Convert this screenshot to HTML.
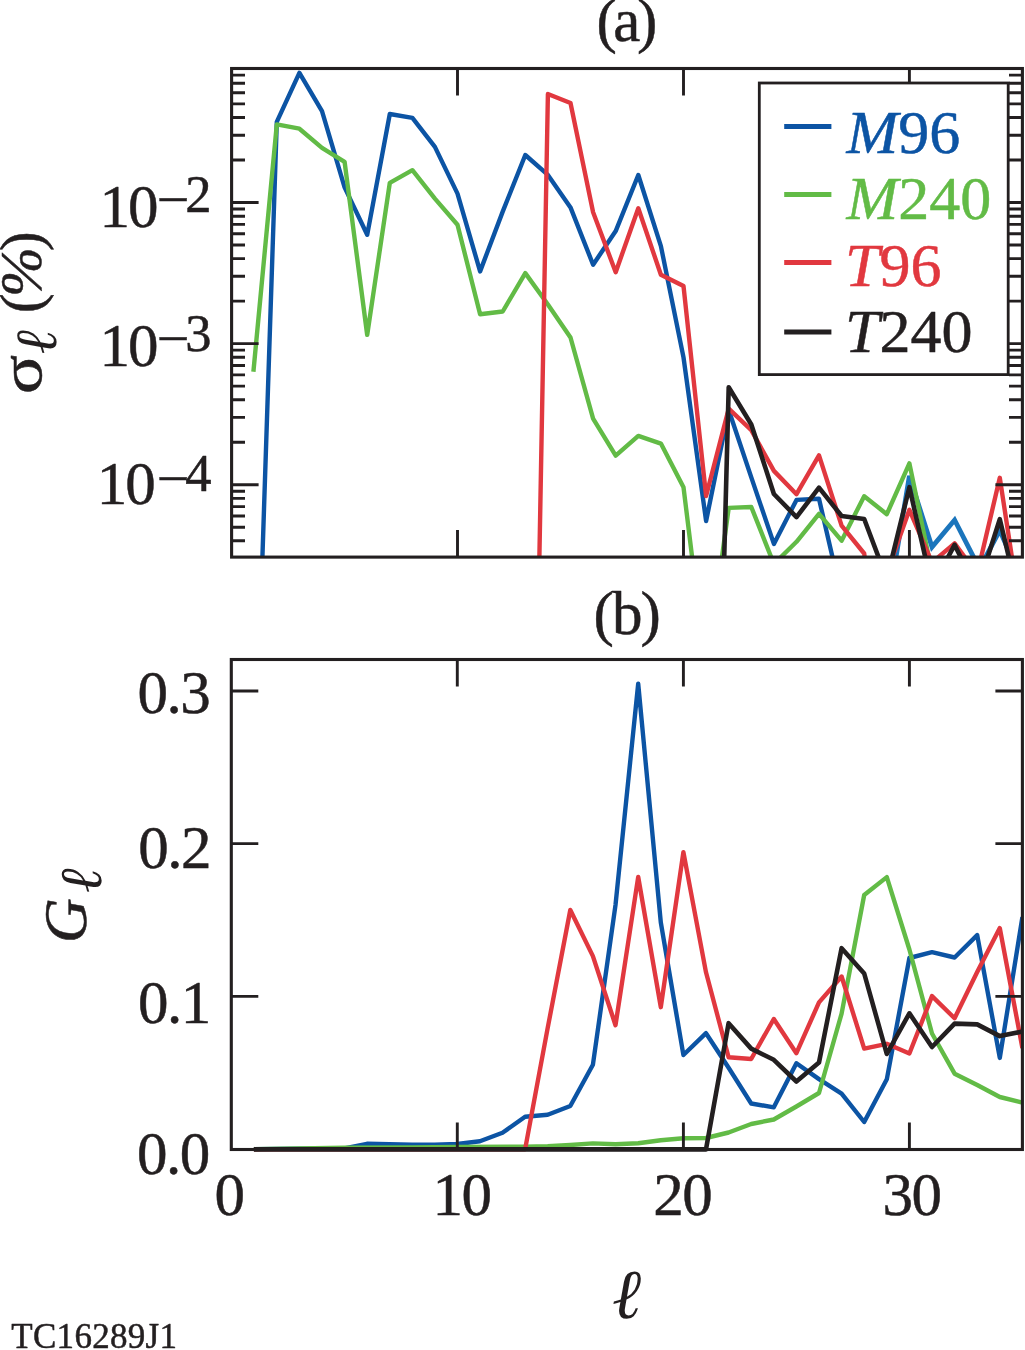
<!DOCTYPE html>
<html lang="en">
<head>
<meta charset="utf-8">
<title>TC16289J1</title>
<style>
html,body{margin:0;padding:0;background:#fff;}
body{width:1025px;height:1350px;overflow:hidden;}
svg{display:block;}
svg text{font-family:"Liberation Serif","Times New Roman",Times,serif;fill:#231f20;stroke:#231f20;stroke-width:0.5px;stroke-linejoin:round;}
</style>
</head>
<body>
<svg width="1025" height="1350" viewBox="0 0 1025 1350">
<defs>
<clipPath id="ca"><rect x="231.6" y="68.5" width="790.8" height="488.6"/></clipPath>
<clipPath id="cb"><rect x="231.3" y="656.5" width="791.1" height="496.0"/></clipPath>
</defs>
<rect width="1025" height="1350" fill="#fff"/>
<!-- panel (a) -->
<g clip-path="url(#ca)">
<path d="M261.0,600.0 L276.8,121.9 L299.4,72.9 L322.0,111.2 L344.6,187.4 L367.2,234.8 L389.8,114.0 L412.4,117.9 L434.9,146.9 L457.5,193.6 L480.1,271.4 L502.7,211.6 L525.3,155.0 L547.9,174.9 L570.5,207.4 L593.1,264.7 L615.7,231.1 L638.3,175.0 L660.9,246.1 L683.5,357.4 L706.1,521.0 L728.7,410.0 L751.3,477.4 L773.9,543.9 L796.5,499.9 L819.0,498.8 L842.4,600.0" fill="none" stroke="#0c54a4" stroke-width="4.4" stroke-linejoin="round" stroke-linecap="butt"/>
<path d="M888.9,600.0 L909.4,476.0 L932.0,547.0 L954.6,520.0 L995.6,600.0 M962.8,600.0 L999.8,530.3 L1029.9,600.0" fill="none" stroke="#1b75bc" stroke-width="4.8" stroke-linejoin="miter" stroke-linecap="butt"/>
<path d="M253.4,371.7 L276.8,124.4 L299.4,128.7 L322.0,147.9 L344.6,161.9 L367.2,334.9 L389.8,182.9 L412.4,170.2 L434.9,198.6 L457.5,224.8 L480.1,314.2 L502.7,311.5 L525.3,273.1 L547.9,304.5 L570.5,337.5 L593.1,418.6 L615.7,455.7 L638.3,435.9 L660.9,443.6 L683.5,487.3 L697.4,600.0 M716.1,600.0 L728.7,507.9 L751.3,507.0 L773.9,564.0 L796.5,541.8 L819.0,513.8 L841.6,540.7 L864.2,496.2 L886.8,514.2 L909.4,463.4 L937.7,600.0" fill="none" stroke="#62bb46" stroke-width="4.4" stroke-linejoin="round" stroke-linecap="butt"/>
<path d="M538.6,600.0 L547.9,94.0 L570.5,103.0 L593.1,212.3 L615.7,272.2 L638.3,208.2 L660.9,274.8 L683.5,286.0 L706.1,496.0 L728.7,408.7 L751.3,430.1 L773.9,470.9 L796.5,494.2 L819.0,455.4 L841.6,525.7 L864.2,553.5 L870.5,600.0 M877.2,600.0 L909.4,509.8 L932.0,562.5 L954.6,543.4 L977.2,574.0 L999.8,477.8 L1022.4,625.8" fill="none" stroke="#e1383f" stroke-width="4.4" stroke-linejoin="round" stroke-linecap="butt"/>
<path d="M723.1,600.0 L728.7,387.3 L751.3,424.5 L773.9,494.0 L796.5,517.1 L819.0,487.6 L841.6,516.0 L864.2,519.0 L886.8,579.0 L909.4,487.2 L932.0,587.0 L954.6,544.9 L977.2,590.0 L999.8,519.2 L1022.4,614.0" fill="none" stroke="#231f20" stroke-width="4.6" stroke-linejoin="round" stroke-linecap="butt"/>
</g>
<path d="M231.6,202.5h27.0 M1022.4,202.5h-27.0 M231.6,343.6h27.0 M1022.4,343.6h-27.0 M231.6,484.7h27.0 M1022.4,484.7h-27.0 M231.6,540.8h13.4 M1022.4,540.8h-13.4 M231.6,527.2h13.4 M1022.4,527.2h-13.4 M231.6,516.0h13.4 M1022.4,516.0h-13.4 M231.6,506.6h13.4 M1022.4,506.6h-13.4 M231.6,498.4h13.4 M1022.4,498.4h-13.4 M231.6,491.2h13.4 M1022.4,491.2h-13.4 M231.6,442.2h13.4 M1022.4,442.2h-13.4 M231.6,417.4h13.4 M1022.4,417.4h-13.4 M231.6,399.7h13.4 M1022.4,399.7h-13.4 M231.6,386.1h13.4 M1022.4,386.1h-13.4 M231.6,374.9h13.4 M1022.4,374.9h-13.4 M231.6,365.5h13.4 M1022.4,365.5h-13.4 M231.6,357.3h13.4 M1022.4,357.3h-13.4 M231.6,350.1h13.4 M1022.4,350.1h-13.4 M231.6,301.1h13.4 M1022.4,301.1h-13.4 M231.6,276.3h13.4 M1022.4,276.3h-13.4 M231.6,258.6h13.4 M1022.4,258.6h-13.4 M231.6,245.0h13.4 M1022.4,245.0h-13.4 M231.6,233.8h13.4 M1022.4,233.8h-13.4 M231.6,224.4h13.4 M1022.4,224.4h-13.4 M231.6,216.2h13.4 M1022.4,216.2h-13.4 M231.6,209.0h13.4 M1022.4,209.0h-13.4 M231.6,160.0h13.4 M1022.4,160.0h-13.4 M231.6,135.2h13.4 M1022.4,135.2h-13.4 M231.6,117.5h13.4 M1022.4,117.5h-13.4 M231.6,103.9h13.4 M1022.4,103.9h-13.4 M231.6,92.7h13.4 M1022.4,92.7h-13.4 M231.6,83.3h13.4 M1022.4,83.3h-13.4 M231.6,75.1h13.4 M1022.4,75.1h-13.4 M457.5,68.5v27.0 M457.5,557.1v-27.0 M683.5,68.5v27.0 M683.5,557.1v-27.0 M909.4,68.5v27.0 M909.4,557.1v-27.0" fill="none" stroke="#231f20" stroke-width="2.9"/>
<rect x="231.6" y="68.5" width="790.8" height="488.6" fill="none" stroke="#231f20" stroke-width="3.1"/>
<rect x="759.3" y="83.0" width="248.9" height="291.6" fill="#fff" stroke="#231f20" stroke-width="2.8"/>
<path d="M784.2,126.5H831.4" stroke="#0c54a4" stroke-width="4.8" fill="none"/>
<text x="846.5" y="152.9" font-size="62" style="fill:#0c54a4;stroke:#0c54a4"><tspan font-style="italic">M</tspan>96</text>
<path d="M784.2,194.5H831.4" stroke="#62bb46" stroke-width="4.8" fill="none"/>
<text x="846.5" y="219.3" font-size="62" style="fill:#62bb46;stroke:#62bb46"><tspan font-style="italic">M</tspan>240</text>
<path d="M784.2,262.5H831.4" stroke="#e1383f" stroke-width="4.8" fill="none"/>
<text x="845.1" y="286.2" font-size="62" style="fill:#e1383f;stroke:#e1383f"><tspan font-style="italic">T</tspan>96</text>
<path d="M784.2,332.0H831.4" stroke="#231f20" stroke-width="4.8" fill="none"/>
<text x="845.1" y="352.2" font-size="62" style="fill:#231f20;stroke:#231f20"><tspan font-style="italic">T</tspan>240</text>
<!-- panel (b) -->
<g clip-path="url(#cb)">
<path d="M253.9,1149.1 L276.5,1148.9 L299.1,1148.6 L321.7,1148.6 L344.3,1148.4 L366.9,1143.8 L389.5,1144.3 L412.1,1144.6 L434.7,1144.8 L457.3,1144.0 L479.9,1141.3 L502.5,1132.8 L525.1,1116.8 L547.7,1114.8 L570.3,1106.0 L592.9,1064.8 L615.5,905.0 L638.2,683.8 L660.8,922.4 L683.4,1055.0 L706.0,1033.2 L728.6,1067.8 L751.2,1103.5 L773.8,1107.3 L796.4,1063.2 L819.0,1079.1 L841.6,1093.6 L864.2,1122.0 L886.8,1079.3 L909.4,958.0 L932.0,952.1 L954.6,957.5 L977.2,935.1 L999.8,1057.9 L1022.4,917.0" fill="none" stroke="#0c54a4" stroke-width="4.4" stroke-linejoin="round" stroke-linecap="butt"/>
<path d="M253.9,1149.1 L299.1,1148.4 L344.3,1147.8 L412.1,1147.4 L457.3,1147.0 L525.1,1146.6 L547.7,1146.2 L570.3,1145.0 L592.9,1143.4 L615.5,1144.2 L638.2,1143.2 L660.8,1140.2 L683.4,1138.2 L706.0,1138.0 L728.6,1132.5 L751.2,1124.0 L773.8,1119.5 L796.4,1106.5 L819.0,1093.0 L841.6,1013.6 L864.2,895.0 L886.8,877.1 L909.4,949.5 L932.0,1033.5 L954.6,1073.7 L977.2,1085.0 L999.8,1097.0 L1022.4,1102.7" fill="none" stroke="#62bb46" stroke-width="4.4" stroke-linejoin="round" stroke-linecap="butt"/>
<path d="M253.9,1149.4 L525.1,1149.4 L547.7,1027.9 L570.3,910.0 L592.9,956.1 L615.5,1025.2 L638.2,877.0 L660.8,1007.2 L683.4,852.1 L706.0,972.3 L728.6,1057.3 L751.2,1059.0 L773.8,1019.0 L796.4,1053.2 L819.0,1002.4 L841.6,976.5 L864.2,1048.6 L886.8,1043.8 L909.4,1053.5 L932.0,996.1 L954.6,1018.2 L977.2,972.0 L999.8,928.1 L1022.4,1048.0" fill="none" stroke="#e1383f" stroke-width="4.4" stroke-linejoin="round" stroke-linecap="butt"/>
<path d="M253.9,1149.4 L706.0,1149.4 L728.6,1023.2 L751.2,1048.6 L773.8,1059.8 L796.4,1081.5 L819.0,1062.5 L841.6,948.2 L864.2,973.5 L886.8,1054.0 L909.4,1013.3 L932.0,1047.0 L954.6,1023.6 L977.2,1024.4 L999.8,1036.1 L1022.4,1031.5" fill="none" stroke="#231f20" stroke-width="4.6" stroke-linejoin="round" stroke-linecap="butt"/>
</g>
<path d="M231.3,996.4h27.0 M1022.4,996.4h-27.0 M231.3,843.6h27.0 M1022.4,843.6h-27.0 M231.3,691.0h27.0 M1022.4,691.0h-27.0 M457.3,659.5v27.0 M457.3,1149.5v-27.0 M683.4,659.5v27.0 M683.4,1149.5v-27.0 M909.4,659.5v27.0 M909.4,1149.5v-27.0" fill="none" stroke="#231f20" stroke-width="2.9"/>
<rect x="231.3" y="659.5" width="791.1" height="490.0" fill="none" stroke="#231f20" stroke-width="3.1"/>
<!-- labels -->
<g>
<text x="596.4" y="40.7" font-size="61" letter-spacing="-3.4">(a)</text>
<text x="593.6" y="633.6" font-size="61" letter-spacing="-2.0">(b)</text>
<text x="99.6" y="226.6" font-size="61" letter-spacing="-2.0">10</text>
<text x="159.9" y="211.5" font-size="52.5" letter-spacing="-1.0">–2</text>
<text x="99.6" y="366.0" font-size="61" letter-spacing="-2.0">10</text>
<text x="159.9" y="351.0" font-size="52.5" letter-spacing="-1.0">–3</text>
<text x="96.8" y="503.9" font-size="61" letter-spacing="-2.0">10</text>
<text x="159.9" y="490.5" font-size="52.5" letter-spacing="-1.0">–4</text>
<text x="137.6" y="712.8" font-size="61" letter-spacing="-1.5">0.3</text>
<text x="138.2" y="868.3" font-size="61" letter-spacing="-1.5">0.2</text>
<text x="138.0" y="1023.3" font-size="61" letter-spacing="-1.5">0.1</text>
<text x="137.0" y="1173.5" font-size="61" letter-spacing="-1.5">0.0</text>
<text x="214.5" y="1215.3" font-size="61" letter-spacing="-1.5">0</text>
<text x="432.5" y="1215.3" font-size="61" letter-spacing="-1.5">10</text>
<text x="653.2" y="1215.3" font-size="61" letter-spacing="-1.5">20</text>
<text x="882.6" y="1215.3" font-size="61" letter-spacing="-1.5">30</text>
<text x="612.0" y="1317.9" font-size="70" font-style="italic" style="stroke-width:0">ℓ</text>
<text x="11.3" y="1348.4" font-size="35" letter-spacing="0.3">TC16289J1</text>
<g transform="translate(41.4,391.5) rotate(-90)">
<text transform="translate(-2.8,0) scale(1.22,1)" x="0" y="0" font-size="60">σ</text>
<text x="37.3" y="15.0" font-size="58" font-style="italic" style="stroke-width:0">ℓ</text>
<text x="78.2" y="0" font-size="60">(</text>
<text x="94.4" y="0" font-size="60" font-style="italic">%</text>
<text x="140.3" y="0" font-size="60">)</text>
</g>
<g transform="translate(85.9,943.1) rotate(-90)">
<text x="0" y="0" font-size="62" font-style="italic">G</text>
<text x="50.2" y="14.8" font-size="59" font-style="italic" style="stroke-width:0">ℓ</text>
</g>
</g>
</svg>
</body>
</html>
